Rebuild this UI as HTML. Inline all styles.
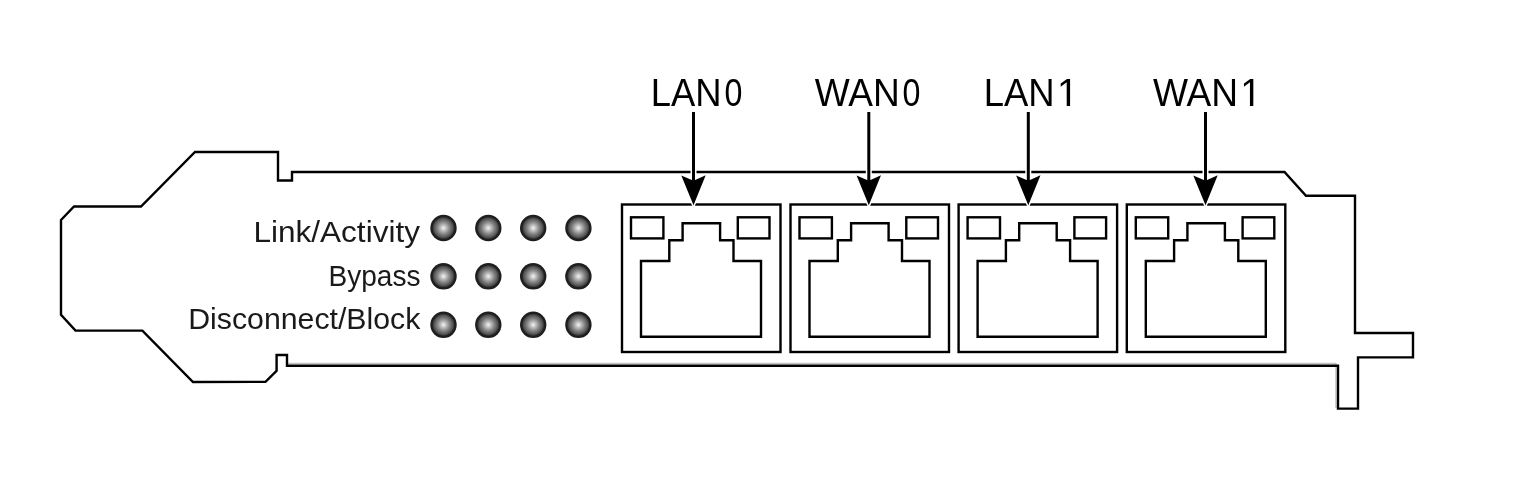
<!DOCTYPE html>
<html><head><meta charset="utf-8"><title>Bypass NIC bracket</title>
<style>html,body{margin:0;padding:0;background:#fff;width:1519px;height:485px;overflow:hidden}svg{display:block;will-change:transform}</style>
</head><body>
<svg width="1519" height="485" viewBox="0 0 1519 485">
<rect x="0" y="363" width="1519" height="1" fill="none"/>
<path d="M288,363.5 L1335.9,363.5 L1335.9,408" fill="none" stroke="#c4c4c4" stroke-width="1.4"/>
<path d="M61,220 L74,206.5 L141,206.5 L195,152 L278,152 L278,180.5 L292,180.5 L292,172 L1284.5,172 L1306,195.7 L1355,195.7 L1355,333 L1413,333 L1413,357.4 L1358,357.4 L1358,408.6 L1338,408.6 L1338,365.8 L287,365.8 L287,355 L276.6,355 L276.6,370.8 L265.5,381.8 L193,382 L142.4,330.6 L75.5,330.6 L61,314.8 Z" fill="none" stroke="#000" stroke-width="2.4" stroke-linejoin="miter"/>
<rect x="622" y="204.5" width="158.5" height="147.5" fill="none" stroke="#000" stroke-width="2.4"/>
<rect x="631" y="217.3" width="32.4" height="21.1" fill="none" stroke="#000" stroke-width="2.4"/>
<rect x="737.8" y="217.3" width="31.7" height="21.1" fill="none" stroke="#000" stroke-width="2.4"/>
<path d="M641,336.7 L641,261 L669.3,261 L669.3,240.3 L682.6,240.3 L682.6,223.2 L720.1,223.2 L720.1,240.3 L733.5,240.3 L733.5,261 L761,261 L761,336.7 Z" fill="none" stroke="#000" stroke-width="2.4"/>
<rect x="790.5" y="204.5" width="158.5" height="147.5" fill="none" stroke="#000" stroke-width="2.4"/>
<rect x="799.5" y="217.3" width="32.4" height="21.1" fill="none" stroke="#000" stroke-width="2.4"/>
<rect x="906.3" y="217.3" width="31.7" height="21.1" fill="none" stroke="#000" stroke-width="2.4"/>
<path d="M809.5,336.7 L809.5,261 L837.8,261 L837.8,240.3 L851.1,240.3 L851.1,223.2 L888.6,223.2 L888.6,240.3 L902.0,240.3 L902.0,261 L929.5,261 L929.5,336.7 Z" fill="none" stroke="#000" stroke-width="2.4"/>
<rect x="958.6" y="204.5" width="158.5" height="147.5" fill="none" stroke="#000" stroke-width="2.4"/>
<rect x="967.6" y="217.3" width="32.4" height="21.1" fill="none" stroke="#000" stroke-width="2.4"/>
<rect x="1074.4" y="217.3" width="31.7" height="21.1" fill="none" stroke="#000" stroke-width="2.4"/>
<path d="M977.6,336.7 L977.6,261 L1005.9,261 L1005.9,240.3 L1019.2,240.3 L1019.2,223.2 L1056.7,223.2 L1056.7,240.3 L1070.1,240.3 L1070.1,261 L1097.6,261 L1097.6,336.7 Z" fill="none" stroke="#000" stroke-width="2.4"/>
<rect x="1126.8" y="204.5" width="158.5" height="147.5" fill="none" stroke="#000" stroke-width="2.4"/>
<rect x="1135.8" y="217.3" width="32.4" height="21.1" fill="none" stroke="#000" stroke-width="2.4"/>
<rect x="1242.6" y="217.3" width="31.7" height="21.1" fill="none" stroke="#000" stroke-width="2.4"/>
<path d="M1145.8,336.7 L1145.8,261 L1174.1,261 L1174.1,240.3 L1187.4,240.3 L1187.4,223.2 L1224.9,223.2 L1224.9,240.3 L1238.3,240.3 L1238.3,261 L1265.8,261 L1265.8,336.7 Z" fill="none" stroke="#000" stroke-width="2.4"/>
<rect x="692.0" y="112" width="3" height="70" fill="#000" stroke="#fff" stroke-width="3"/>
<path d="M693.5,205.2 L681.3,175.4 L693.5,180.8 L705.7,175.2 Z" fill="#000" stroke="#fff" stroke-width="3" stroke-linejoin="round"/>
<rect x="692.0" y="112" width="3" height="70" fill="#000"/>
<path d="M693.5,205.2 L681.3,175.4 L693.5,180.8 L705.7,175.2 Z" fill="#000"/>
<rect x="867.3" y="112" width="3" height="70" fill="#000" stroke="#fff" stroke-width="3"/>
<path d="M868.8,205.2 L856.6,175.4 L868.8,180.8 L881.0,175.2 Z" fill="#000" stroke="#fff" stroke-width="3" stroke-linejoin="round"/>
<rect x="867.3" y="112" width="3" height="70" fill="#000"/>
<path d="M868.8,205.2 L856.6,175.4 L868.8,180.8 L881.0,175.2 Z" fill="#000"/>
<rect x="1026.8" y="112" width="3" height="70" fill="#000" stroke="#fff" stroke-width="3"/>
<path d="M1028.3,205.2 L1016.1,175.4 L1028.3,180.8 L1040.5,175.2 Z" fill="#000" stroke="#fff" stroke-width="3" stroke-linejoin="round"/>
<rect x="1026.8" y="112" width="3" height="70" fill="#000"/>
<path d="M1028.3,205.2 L1016.1,175.4 L1028.3,180.8 L1040.5,175.2 Z" fill="#000"/>
<rect x="1204.0" y="112" width="3" height="70" fill="#000" stroke="#fff" stroke-width="3"/>
<path d="M1205.5,205.2 L1193.3,175.4 L1205.5,180.8 L1217.7,175.2 Z" fill="#000" stroke="#fff" stroke-width="3" stroke-linejoin="round"/>
<rect x="1204.0" y="112" width="3" height="70" fill="#000"/>
<path d="M1205.5,205.2 L1193.3,175.4 L1205.5,180.8 L1217.7,175.2 Z" fill="#000"/>
<defs><radialGradient id="g" cx="50%" cy="50%" r="50%"><stop offset="0" stop-color="#f6f6f6"/><stop offset="0.15" stop-color="#cecece"/><stop offset="0.45" stop-color="#888888"/><stop offset="0.73" stop-color="#505050"/><stop offset="0.85" stop-color="#202020"/><stop offset="1" stop-color="#1c1c1c"/></radialGradient></defs>
<circle cx="443.5" cy="228" r="13.2" fill="url(#g)"/>
<circle cx="488.3" cy="228" r="13.2" fill="url(#g)"/>
<circle cx="533.2" cy="228" r="13.2" fill="url(#g)"/>
<circle cx="578.4" cy="228" r="13.2" fill="url(#g)"/>
<circle cx="443.5" cy="276.3" r="13.2" fill="url(#g)"/>
<circle cx="488.3" cy="276.3" r="13.2" fill="url(#g)"/>
<circle cx="533.2" cy="276.3" r="13.2" fill="url(#g)"/>
<circle cx="578.4" cy="276.3" r="13.2" fill="url(#g)"/>
<circle cx="443.5" cy="324.8" r="13.2" fill="url(#g)"/>
<circle cx="488.3" cy="324.8" r="13.2" fill="url(#g)"/>
<circle cx="533.2" cy="324.8" r="13.2" fill="url(#g)"/>
<circle cx="578.4" cy="324.8" r="13.2" fill="url(#g)"/>
<text x="253.4" y="241.8" textLength="166.6" lengthAdjust="spacingAndGlyphs" style="font-family:'Liberation Sans',sans-serif;fill:#1a1a1a;font-size:29px">Link/Activity</text>
<text x="328.5" y="286.2" textLength="92" lengthAdjust="spacingAndGlyphs" style="font-family:'Liberation Sans',sans-serif;fill:#1a1a1a;font-size:29px">Bypass</text>
<text x="188.2" y="329.3" textLength="232.2" lengthAdjust="spacingAndGlyphs" style="font-family:'Liberation Sans',sans-serif;fill:#1a1a1a;font-size:29px">Disconnect/Block</text>
<text x="650.7" y="105.9" textLength="70.8" lengthAdjust="spacingAndGlyphs" style="font-family:'Liberation Sans',sans-serif;fill:#000;font-size:38.5px">LAN</text>
<text x="814.75" y="105.9" textLength="85.1" lengthAdjust="spacingAndGlyphs" style="font-family:'Liberation Sans',sans-serif;fill:#000;font-size:38.5px">WAN</text>
<text x="983.7" y="105.9" textLength="70.9" lengthAdjust="spacingAndGlyphs" style="font-family:'Liberation Sans',sans-serif;fill:#000;font-size:38.5px">LAN</text>
<text x="1152.9" y="105.9" textLength="85.2" lengthAdjust="spacingAndGlyphs" style="font-family:'Liberation Sans',sans-serif;fill:#000;font-size:38.5px">WAN</text>
<text x="724.4" y="105.9" textLength="17.9" lengthAdjust="spacingAndGlyphs" style="font-family:'Liberation Sans',sans-serif;fill:#000;font-size:38.5px">0</text>
<text x="902.4" y="105.9" textLength="17.9" lengthAdjust="spacingAndGlyphs" style="font-family:'Liberation Sans',sans-serif;fill:#000;font-size:38.5px">0</text>
<text x="1056.9" y="105.9" style="font-family:'Liberation Sans',sans-serif;fill:#000;font-size:38.5px">1</text>
<rect x="1058.9" y="102.6" width="7.79" height="4" fill="#fff"/>
<rect x="1070.08" y="102.6" width="8" height="4" fill="#fff"/>
<text x="1240.3" y="105.9" style="font-family:'Liberation Sans',sans-serif;fill:#000;font-size:38.5px">1</text>
<rect x="1242.3" y="102.6" width="7.64" height="4" fill="#fff"/>
<rect x="1253.33" y="102.6" width="8" height="4" fill="#fff"/>
</svg>
</body></html>
